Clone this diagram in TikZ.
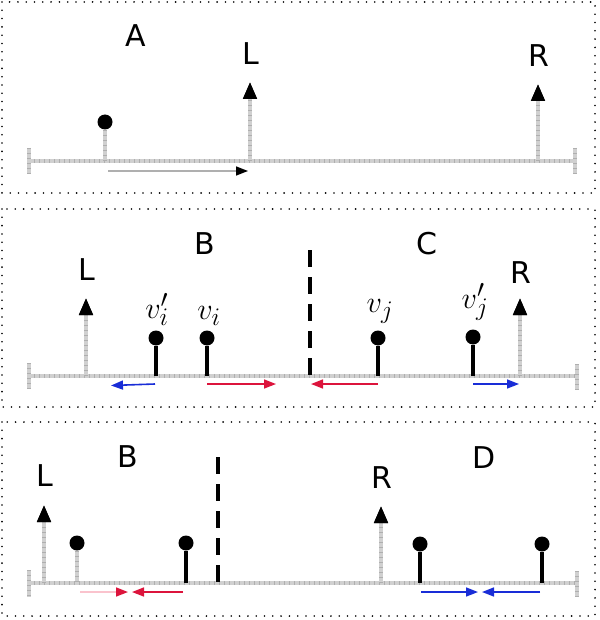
\documentclass[tikz,border=0pt]{standalone}
\usepackage{fontspec}
\setmainfont{DejaVu Sans}
\usetikzlibrary{arrows.meta}
\definecolor{myred}{RGB}{220,20,60}
\definecolor{myblue}{RGB}{25,45,215}
\definecolor{mypink}{RGB}{250,195,205}
\definecolor{trk}{RGB}{208,208,208}
\definecolor{trkd}{RGB}{175,175,175}
\newcommand{\bigmath}[1]{\scalebox{1.22}{$#1$}}
\begin{document}
\begin{tikzpicture}[x=1pt,y=-1pt,
  frame/.style={line width=1.8pt, dash pattern=on 0pt off 8.3pt, line cap=round},
  track/.style={draw=trk, line width=4pt, postaction={draw=trkd, line width=4pt, dash pattern=on 1pt off 4pt}},
  bighead/.style={-{Triangle[black,width=13pt,length=17pt]}},
  ball/.style={circle, fill=black, inner sep=0pt, minimum size=15pt},
  stem/.style={line width=3.5pt, black},
  lbl/.style={font=\fontsize{30}{36}\selectfont, inner sep=0pt},
  mlbl/.style={font=\fontsize{24.88}{30}\selectfont, inner sep=0pt, anchor=south},
  small/.style={line width=1.6pt, -{Triangle[width=9pt,length=12pt]}},
  divider/.style={line width=4pt, dash pattern=on 17pt off 10pt}
]
\useasboundingbox (0,0) rectangle (599,620);

% ---------- Panel A ----------
\draw[frame] (2,2) rectangle (595,193);
\coordinate (A0) at (29,161);
\coordinate (A9) at (575,161);
\coordinate (A0t) at (29,148); \coordinate (A0b) at (29,174);
\coordinate (A9t) at (575,148); \coordinate (A9b) at (575,174);
\draw[track] (A0) -- (A9);
\draw[track] (A0t) -- (A0b);
\draw[track] (A9t) -- (A9b);
\node[lbl] (labA) at (136,36) {A};
\node[ball] (pA) at (105,122) {};
\coordinate (pAb) at (105,161);
\draw[track] (pA) -- (pAb);
\coordinate (LAb) at (250,161);
\coordinate (LAt) at (250,82);
\draw[track, bighead] (LAb) -- (LAt);
\node[lbl] (LA) at (251,54) {L};
\coordinate (RAb) at (538,161);
\coordinate (RAt) at (538,84);
\draw[track, bighead] (RAb) -- (RAt);
\node[lbl] (RA) at (539,56) {R};
\coordinate (sA1) at (108,171);
\coordinate (sA2) at (248,171);
\draw[small, draw=trkd, -{Triangle[black,width=9pt,length=12pt]}] (sA1) -- (sA2);

% ---------- Panel B/C ----------
\draw[frame] (2,209) rectangle (595,407);
\coordinate (B0) at (29,376);
\coordinate (B9) at (577,376);
\coordinate (B0t) at (29,363); \coordinate (B0b) at (29,389);
\coordinate (B9t) at (577,364); \coordinate (B9b) at (577,390);
\draw[track] (B0) -- (B9);
\draw[track] (B0t) -- (B0b);
\draw[track] (B9t) -- (B9b);
\coordinate (LBb) at (86,376);
\coordinate (LBt) at (86,298);
\draw[track, bighead] (LBb) -- (LBt);
\node[lbl] (LB) at (87,270) {L};
\node[lbl] (labB) at (205,244) {B};
\node[lbl] (labC) at (427,244) {C};
\coordinate (RBb) at (520,376);
\coordinate (RBt) at (520,298);
\draw[track, bighead] (RBb) -- (RBt);
\node[lbl] (RB) at (521,273) {R};
% pins
\node[ball] (vip) at (156,338) {};
\node[ball] (vi) at (207,338) {};
\node[ball] (vj) at (378,338) {};
\node[ball] (vjp) at (473,337) {};
\coordinate (vipb) at (156,376);
\coordinate (vib) at (207,376);
\coordinate (vjb) at (378,376);
\coordinate (vjpb) at (473,376);
\draw[stem] (vip) -- (vipb);
\draw[stem] (vi) -- (vib);
\draw[stem] (vj) -- (vjb);
\draw[stem] (vjp) -- (vjpb);
\node[mlbl] (tvip) at (157,326) {\bigmath{v_i'}};
\node[mlbl] (tvi) at (209,326) {\bigmath{v_i}};
\node[mlbl] (tvj) at (380,324) {\bigmath{v_j}};
\node[mlbl] (tvjp) at (475,321) {\bigmath{v_j'}};
% divider
\coordinate (dB1) at (310,250);
\coordinate (dB2) at (310,376);
\draw[divider] (dB1) -- (dB2);
% arrows
\coordinate (b1s) at (155,384); \coordinate (b1e) at (111,385.5);
\coordinate (r1s) at (207,384); \coordinate (r1e) at (276,384);
\coordinate (r2s) at (378,384); \coordinate (r2e) at (311,384);
\coordinate (b2s) at (473,384); \coordinate (b2e) at (519,384);
\draw[small, myblue] (b1s) -- (b1e);
\draw[small, myred] (r1s) -- (r1e);
\draw[small, myred] (r2s) -- (r2e);
\draw[small, myblue] (b2s) -- (b2e);

% ---------- Panel B/D ----------
\draw[frame] (2,422) rectangle (595,616);
\coordinate (D0) at (29,583);
\coordinate (D9) at (577,583);
\coordinate (D0t) at (29,570); \coordinate (D0b) at (29,597);
\coordinate (D9t) at (577,571); \coordinate (D9b) at (577,597);
\draw[track] (D0) -- (D9);
\draw[track] (D0t) -- (D0b);
\draw[track] (D9t) -- (D9b);
\coordinate (LDb) at (44,583);
\coordinate (LDt) at (44,505);
\draw[track, bighead] (LDb) -- (LDt);
\node[lbl] (LD) at (45,476) {L};
\node[lbl] (labB2) at (128,457) {B};
\coordinate (RDb) at (381,583);
\coordinate (RDt) at (381,506);
\draw[track, bighead] (RDb) -- (RDt);
\node[lbl] (RD) at (382,478) {R};
\node[lbl] (labD) at (484,458) {D};
% pins
\node[ball] (g1) at (77,543) {};
\coordinate (g1b) at (77,583);
\draw[track] (g1) -- (g1b);
\node[ball] (k1) at (186,543) {};
\coordinate (k1b) at (186,583);
\draw[stem] (k1) -- (k1b);
\node[ball] (k2) at (420,544) {};
\coordinate (k2b) at (420,583);
\draw[stem] (k2) -- (k2b);
\node[ball] (k3) at (542,544) {};
\coordinate (k3b) at (542,583);
\draw[stem] (k3) -- (k3b);
% divider
\coordinate (dD1) at (218,457);
\coordinate (dD2) at (218,583);
\draw[divider] (dD1) -- (dD2);
% arrows
\coordinate (p1s) at (80,592); \coordinate (p1e) at (128,592);
\coordinate (r3s) at (183,592); \coordinate (r3e) at (132,592);
\coordinate (b3s) at (421,592); \coordinate (b3e) at (478,592);
\coordinate (b4s) at (540,592); \coordinate (b4e) at (482,592);
\draw[small, draw=mypink, -{Triangle[myred,width=9pt,length=12pt]}] (p1s) -- (p1e);
\draw[small, myred] (r3s) -- (r3e);
\draw[small, myblue] (b3s) -- (b3e);
\draw[small, myblue] (b4s) -- (b4e);
\end{tikzpicture}
\end{document}
